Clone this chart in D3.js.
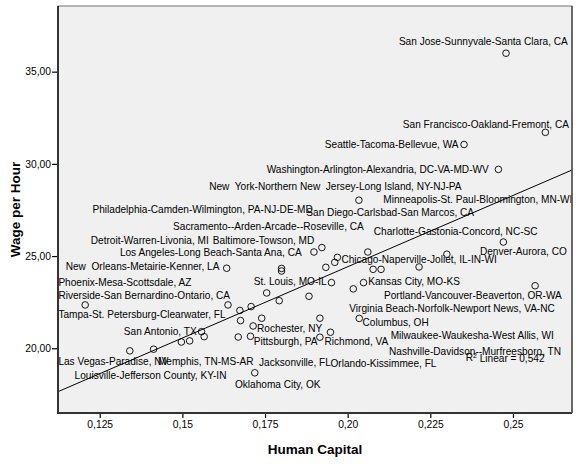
<!DOCTYPE html>
<html>
<head>
<meta charset="utf-8">
<script src="https://cdn.jsdelivr.net/npm/d3@7"></script>
<style>
  body { margin: 0; background: #fff; }
  text { font-family: 'Liberation Sans', Arial, sans-serif; fill: #000; }
</style>
</head>
<body>
<svg id="chart" width="578" height="464"></svg>
<script>
'use strict';

// one entry per metro area circle: human capital share and hourly wage
var capital = [0.2479, 0.2598, 0.2352, 0.2456, 0.2034, 0.2471, 0.2300, 0.2061,
               0.1898, 0.1922, 0.1969, 0.1961, 0.1934, 0.2077, 0.2101, 0.2216,
               0.1951, 0.2017, 0.2048, 0.2567, 0.2035, 0.1916, 0.1948, 0.1916,
               0.1883, 0.1793, 0.1755, 0.1634, 0.1800, 0.1800, 0.1638, 0.1674,
               0.1708, 0.1676, 0.1740, 0.1714, 0.1669, 0.1706, 0.1558, 0.1566,
               0.1497, 0.1522, 0.1413, 0.1341, 0.1719, 0.1206];
var wage    = [36.00, 31.71, 31.05, 29.70, 28.03, 25.76, 25.10, 25.22,
               25.22, 25.46, 24.93, 24.66, 24.39, 24.28, 24.28, 24.41,
               23.56, 23.22, 23.56, 23.39, 21.62, 21.63, 20.87, 20.60,
               22.82, 22.58, 23.00, 24.34, 24.33, 24.19, 22.35, 22.05,
               22.26, 21.50, 21.63, 21.21, 20.61, 20.65, 20.90, 20.63,
               20.34, 20.40, 19.95, 19.86, 18.67, 22.35];

// point labels, anchored (left edge, middle) in data units
var labelText = [
  'San Jose-Sunnyvale-Santa Clara, CA',
  'San Francisco-Oakland-Fremont, CA',
  'Seattle-Tacoma-Bellevue, WA',
  'Washington-Arlington-Alexandria, DC-VA-MD-WV',
  'New  York-Northern New  Jersey-Long Island, NY-NJ-PA',
  'Minneapolis-St. Paul-Bloomington, MN-WI',
  'Philadelphia-Camden-Wilmington, PA-NJ-DE-MD',
  'San Diego-Carlsbad-San Marcos, CA',
  'Sacramento--Arden-Arcade--Roseville, CA',
  'Charlotte-Gastonia-Concord, NC-SC',
  'Detroit-Warren-Livonia, MI',
  'Baltimore-Towson, MD',
  'Los Angeles-Long Beach-Santa Ana, CA',
  'Denver-Aurora, CO',
  'New  Orleans-Metairie-Kenner, LA',
  'Chicago-Naperville-Joliet, IL-IN-WI',
  'Phoenix-Mesa-Scottsdale, AZ',
  'St. Louis, MO-IL',
  'Kansas City, MO-KS',
  'Riverside-San Bernardino-Ontario, CA',
  'Portland-Vancouver-Beaverton, OR-WA',
  'Tampa-St. Petersburg-Clearwater, FL',
  'Virginia Beach-Norfolk-Newport News, VA-NC',
  'Columbus, OH',
  'San Antonio, TX',
  'Rochester, NY',
  'Milwaukee-Waukesha-West Allis, WI',
  'Pittsburgh, PA',
  'Richmond, VA',
  'Nashville-Davidson--Murfreesboro, TN',
  'Las Vegas-Paradise, NV',
  'Memphis, TN-MS-AR',
  'Jacksonville, FL',
  'Orlando-Kissimmee, FL',
  'Louisville-Jefferson County, KY-IN',
  'Oklahoma City, OK'
];
var labelCapital = [0.2155, 0.2167, 0.1931, 0.1755, 0.1581, 0.2108, 0.1228, 0.1875,
                    0.1472, 0.2079, 0.1223, 0.1592, 0.1311, 0.2400, 0.1147, 0.1981,
                    0.1125, 0.1716, 0.2062, 0.1125, 0.2110, 0.1125, 0.2005, 0.2045,
                    0.1323, 0.1726, 0.2130, 0.1716, 0.1930, 0.2125, 0.1125, 0.1426,
                    0.1732, 0.1948, 0.1174, 0.1659];
var labelWage    = [36.61, 32.16, 31.05, 29.72, 28.75, 28.07, 27.50, 27.34,
                    26.63, 26.32, 25.87, 25.87, 25.17, 25.24, 24.41, 24.79,
                    23.56, 23.61, 23.60, 22.84, 22.84, 21.81, 22.17, 21.39,
                    20.90, 21.08, 20.68, 20.36, 20.36, 19.82, 19.27, 19.26,
                    19.22, 19.19, 18.50, 18.06];

var xTicks = [0.125, 0.15, 0.175, 0.20, 0.225, 0.25];
var xTickText = ['0,125', '0,15', '0,175', '0,20', '0,225', '0,25'];
var yTicks = [20, 25, 30, 35];
var yTickText = ['20,00', '25,00', '30,00', '35,00'];

// linear fit as drawn in the picture
var fitSlope = 77.3;
var fitIntercept = 8.96;
var fitR2 = '0,542';

var svg = d3.select('#chart');
var plotLeft = 58, plotRight = 572, plotTop = 6, plotBottom = 413;
var labelSize = '10.1px';

var x = d3.scaleLinear().domain([0.11238, 0.26786]).range([plotLeft, plotRight]);
var y = d3.scaleLinear().domain([16.49, 38.56]).range([plotBottom, plotTop]);

svg.append('rect')
  .attr('x', plotLeft).attr('y', plotTop)
  .attr('width', plotRight - plotLeft).attr('height', plotBottom - plotTop)
  .attr('fill', '#f0f0f0')
  .attr('stroke', '#6e6e6e')
  .attr('stroke-width', 1);

svg.append('clipPath').attr('id', 'plotclip')
  .append('rect')
  .attr('x', plotLeft).attr('y', plotTop)
  .attr('width', plotRight - plotLeft).attr('height', plotBottom - plotTop);

var plot = svg.append('g').attr('clip-path', 'url(#plotclip)');

// fit line across the whole x range
var xd = x.domain();
plot.append('line')
  .attr('x1', x(xd[0])).attr('y1', y(fitIntercept + fitSlope * xd[0]))
  .attr('x2', x(xd[1])).attr('y2', y(fitIntercept + fitSlope * xd[1]))
  .attr('stroke', '#000')
  .attr('stroke-width', 1);

plot.selectAll('circle.pt')
  .data(d3.range(capital.length))
  .enter().append('circle')
  .attr('class', 'pt')
  .attr('cx', function(i) { return x(capital[i]); })
  .attr('cy', function(i) { return y(wage[i]); })
  .attr('r', 3.3)
  .attr('fill', 'none')
  .attr('stroke', '#000')
  .attr('stroke-width', 0.9);

plot.selectAll('text.lbl')
  .data(d3.range(labelText.length))
  .enter().append('text')
  .attr('class', 'lbl')
  .attr('x', function(i) { return x(labelCapital[i]); })
  .attr('y', function(i) { return y(labelWage[i]); })
  .attr('dy', '0.35em')
  .attr('font-size', labelSize)
  .style('white-space', 'pre')
  .text(function(i) { return labelText[i]; });

// R-squared annotation sits on top of the Nashville label
var r2 = plot.append('text')
  .attr('x', x(0.2357)).attr('y', y(19.51))
  .attr('dy', '0.35em')
  .attr('font-size', labelSize);
r2.append('tspan').text('R');
r2.append('tspan').attr('dy', '-0.4em').attr('font-size', '7px').text('2');
r2.append('tspan').attr('dy', '0.4em').text(' Linear = ' + fitR2);

// axes
var xAxis = d3.axisBottom(x).tickValues(xTicks).tickSize(5).tickPadding(3)
  .tickFormat(function(d, i) { return xTickText[i]; });
var yAxis = d3.axisLeft(y).tickValues(yTicks).tickSize(6).tickPadding(1)
  .tickFormat(function(d, i) { return yTickText[i]; });

var gx = svg.append('g').attr('transform', 'translate(0,' + plotBottom + ')').call(xAxis);
var gy = svg.append('g').attr('transform', 'translate(' + plotLeft + ',0)').call(yAxis);

[gx, gy].forEach(function(g) {
  g.select('.domain').remove();
  g.selectAll('line').attr('stroke', '#000').attr('stroke-width', 1.2);
  g.selectAll('text').attr('font-size', '10.3px')
    .style('font-family', "'Liberation Sans', Arial, sans-serif");
});

// heavy axis lines along left and bottom edge of the frame
svg.append('line')
  .attr('x1', plotLeft).attr('y1', plotTop).attr('x2', plotLeft).attr('y2', plotBottom + 1)
  .attr('stroke', '#333').attr('stroke-width', 2);
svg.append('line')
  .attr('x1', plotLeft).attr('y1', plotBottom).attr('x2', plotRight).attr('y2', plotBottom)
  .attr('stroke', '#333').attr('stroke-width', 2);
svg.append('line')
  .attr('x1', plotRight).attr('y1', plotTop).attr('x2', plotRight).attr('y2', plotBottom)
  .attr('stroke', '#555').attr('stroke-width', 1.6);

svg.append('text')
  .attr('x', (plotLeft + plotRight) / 2).attr('y', 449)
  .attr('dy', '0.35em')
  .attr('text-anchor', 'middle')
  .attr('font-size', '13.5px')
  .attr('font-weight', 'bold')
  .text('Human Capital');

svg.append('text')
  .attr('transform', 'translate(15,' + ((plotTop + plotBottom) / 2) + ') rotate(-90)')
  .attr('dy', '0.35em')
  .attr('text-anchor', 'middle')
  .attr('font-size', '13.5px')
  .attr('font-weight', 'bold')
  .text('Wage per Hour');
</script>
</body>
</html>
